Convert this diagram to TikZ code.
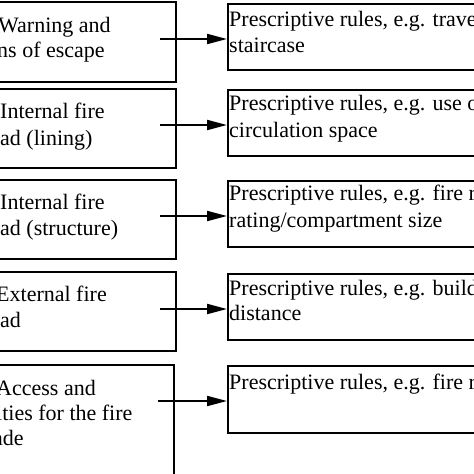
\documentclass[tikz,border=0pt]{standalone}
\usepackage{fontspec}
\setmainfont{Liberation Serif}
\usetikzlibrary{arrows.meta}
\begin{document}
\begin{tikzpicture}[x=1pt,y=-1pt,
  lbox/.style={draw=black,line width=2pt,rectangle,inner sep=0pt,anchor=north west},
  rbox/.style={draw=black,line width=1.7pt,rectangle,inner sep=0pt,anchor=north west},
  txt/.style={anchor=base west,inner sep=0pt,font=\fontsize{22}{26}\selectfont},
  arr/.style={line width=2pt,-{Triangle[length=20pt,width=10pt]}}]
\useasboundingbox (0,0) rectangle (474,474);
\clip (0,0) rectangle (474,474);
% left boxes
\node[lbox,minimum width=185pt,minimum height=80pt] (L1) at (-10,1) {};
\node[lbox,minimum width=185pt,minimum height=79pt] (L2) at (-10,88) {};
\node[lbox,minimum width=185pt,minimum height=79pt] (L3) at (-10,179) {};
\node[lbox,minimum width=185pt,minimum height=79pt] (L4) at (-10,271) {};
\node[lbox,minimum width=183pt,minimum height=130pt] (L5) at (-10,364) {};
% right boxes
\node[rbox,minimum width=270pt,minimum height=66pt] (R1) at (227,3) {};
\node[rbox,minimum width=270pt,minimum height=66pt] (R2) at (227,89) {};
\node[rbox,minimum width=270pt,minimum height=66pt] (R3) at (227,180) {};
\node[rbox,minimum width=270pt,minimum height=66pt] (R4) at (227,273) {};
\node[rbox,minimum width=270pt,minimum height=67pt] (R5) at (227,365) {};
% left texts
\node[txt] (t11) at (-2,32) {Warning and};
\node[txt] (t12) at (-3,57) {ns of escape};
\node[txt] (t21) at (0,118) {Internal fire};
\node[txt] (t22) at (0,145) {ad (lining)};
\node[txt] (t31) at (0,209) {Internal fire};
\node[txt] (t32) at (0,235) {ad (structure)};
\node[txt] (t41) at (-4,301) {External fire};
\node[txt] (t42) at (0,327) {ad};
\node[txt] (t51) at (-4,395) {Access and};
\node[txt] (t52) at (-4,420) {ities for the fire};
\node[txt] (t53) at (-7,445) {ade};
% right texts
\node[txt] (r11) at (229,26) {Prescriptive rules, e.g. travel};
\node[txt] (r12) at (229,52) {staircase};
\node[txt] (r21) at (229,110) {Prescriptive rules, e.g. use of};
\node[txt] (r22) at (229,137) {circulation space};
\node[txt] (r31) at (229,200) {Prescriptive rules, e.g. fire r};
\node[txt] (r32) at (229,227) {rating/compartment size};
\node[txt] (r41) at (229,295) {Prescriptive rules, e.g. build};
\node[txt] (r42) at (229,320) {distance};
\node[txt] (r51) at (229,389) {Prescriptive rules, e.g. fire r};
% arrows
\coordinate (a1) at (160,39);
\coordinate (a2) at (160,125);
\coordinate (a3) at (160,216);
\coordinate (a4) at (160,309);
\coordinate (a5) at (158,401);
\draw[arr] (a1) -- (R1.west |- a1);
\draw[arr] (a2) -- (R2.west |- a2);
\draw[arr] (a3) -- (R3.west |- a3);
\draw[arr] (a4) -- (R4.west |- a4);
\draw[arr] (a5) -- (R5.west |- a5);
\end{tikzpicture}
\end{document}
